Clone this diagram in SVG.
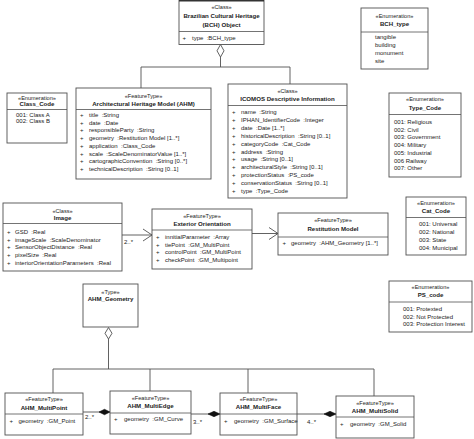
<svg xmlns="http://www.w3.org/2000/svg" width="474" height="439" viewBox="0 0 474 439">
<style>
text{font-family:"Liberation Sans",Arial,sans-serif;fill:#222;white-space:pre}
.box{fill:#fff;stroke:#505050;stroke-width:0.9}
.div{stroke:#505050;stroke-width:0.8}
.st{font-size:5.6px;text-anchor:middle}
.nm{font-size:6.1px;font-weight:bold;text-anchor:middle}
.at{font-size:6px}
.ln{fill:none;stroke:#505050;stroke-width:0.9}
.hd{fill:#fff;stroke:#505050;stroke-width:0.9}
.fd{fill:#111;stroke:#111;stroke-width:0.6}
</style>
<rect width="474" height="439" fill="#fff"/>
<g id="connectors">
<path class="ln" d="M220.5,57 V67 M141,67 H290 M141,67 V88 M290,67 V84"/>
<path class="hd" d="M220.5,44.5 L224,50.8 L220.5,57 L217,50.8 Z"/>
<path class="ln" d="M122,235 H152 M143,229 L152,235 L143,241"/>
<text class="at" x="124" y="244">2..*</text>
<path class="ln" d="M252,233.5 H278 M269,227.5 L278,233.5 L269,239.5"/>
<path class="ln" d="M108.5,339 V369 M53,369 H374 M53,369 V393 M150,369 V391 M248,369 V393 M374,369 V396"/>
<path class="hd" d="M108.5,327.5 L112,333.3 L108.5,339 L105,333.3 Z"/>
<path class="ln" d="M83,412 H110"/>
<path class="fd" d="M110,412 L104.5,409.3 L99,412 L104.5,414.7 Z"/>
<text class="at" x="85" y="419">2..*</text>
<path class="ln" d="M191,414 H220"/>
<path class="fd" d="M220,414 L214,411.3 L208,414 L214,416.7 Z"/>
<text class="at" x="193" y="424">3..*</text>
<path class="ln" d="M297,414 H336"/>
<path class="fd" d="M336,414 L330,411.3 L324,414 L330,416.7 Z"/>
<text class="at" x="307" y="424">4..*</text>
</g>
<g id="bch-object">
<rect class="box" x="179" y="0.5" width="85" height="44"/>
<line x1="179" y1="0.8" x2="264" y2="0.8" stroke="#333" stroke-width="1.6"/>
<text class="st" x="221.5" y="9">«Class»</text>
<text class="nm" x="221.5" y="18">Brazilian Cultural Heritage</text>
<text class="nm" x="221.5" y="27">(BCH) Object</text>
<line class="div" x1="179" y1="31.5" x2="264" y2="31.5"/>
<text class="at" x="182.5" y="40">+</text>
<text class="at" x="192" y="40">type  :BCH_type</text>
</g>
<g id="bch-type">
<rect class="box" x="361" y="8" width="67" height="61"/>
<text class="st" x="394.5" y="18">«Enumeration»</text>
<text class="nm" x="394.5" y="26">BCH_type</text>
<line class="div" x1="361" y1="32" x2="428" y2="32"/>
<text class="at" x="375" y="39">tangible</text>
<text class="at" x="375" y="47">building</text>
<text class="at" x="375" y="55">monument</text>
<text class="at" x="375" y="63">site</text>
</g>
<g id="class-code">
<rect class="box" x="7" y="93" width="60" height="50"/>
<text class="st" x="37" y="99.5">«Enumeration»</text>
<text class="nm" x="37" y="106">Class_Code</text>
<line class="div" x1="7" y1="109.5" x2="67" y2="109.5"/>
<text class="at" x="16" y="116.5">001: Class A</text>
<text class="at" x="16" y="123">002: Class B</text>
</g>
<g id="ahm">
<rect class="box" x="76" y="88" width="135" height="91"/>
<text class="st" x="143.5" y="98">«FeatureType»</text>
<text class="nm" x="143.5" y="106">Architectural Heritage Model (AHM)</text>
<line class="div" x1="76" y1="109.5" x2="211" y2="109.5"/>
<text class="at" x="80" y="117">+</text><text class="at" x="89" y="117">title  :String</text>
<text class="at" x="80" y="124.7">+</text><text class="at" x="89" y="124.7">date  :Date</text>
<text class="at" x="80" y="132.4">+</text><text class="at" x="89" y="132.4">responsibleParty  :String</text>
<text class="at" x="80" y="140.1">+</text><text class="at" x="89" y="140.1">geometry  :Restitution Model [1..*]</text>
<text class="at" x="80" y="147.8">+</text><text class="at" x="89" y="147.8">application  :Class_Code</text>
<text class="at" x="80" y="155.5">+</text><text class="at" x="89" y="155.5">scale  :ScaleDenominatorValue [1..*]</text>
<text class="at" x="80" y="163.2">+</text><text class="at" x="89" y="163.2">cartographicConvention  :String [0..*]</text>
<text class="at" x="80" y="170.9">+</text><text class="at" x="89" y="170.9">technicalDescription  :String [0..1]</text>
</g>
<g id="icomos">
<rect class="box" x="228" y="84" width="119" height="114"/>
<text class="st" x="287.5" y="92.5">«Class»</text>
<text class="nm" x="287.5" y="100.5">ICOMOS Descriptive Information</text>
<line class="div" x1="228" y1="105.5" x2="347" y2="105.5"/>
<text class="at" x="232" y="114">+</text><text class="at" x="241" y="114">name  :String</text>
<text class="at" x="232" y="121.9">+</text><text class="at" x="241" y="121.9">IPHAN_IdentifierCode  :Integer</text>
<text class="at" x="232" y="129.8">+</text><text class="at" x="241" y="129.8">date  :Date [1..*]</text>
<text class="at" x="232" y="137.7">+</text><text class="at" x="241" y="137.7">historicalDescription  :String [0..1]</text>
<text class="at" x="232" y="145.6">+</text><text class="at" x="241" y="145.6">categoryCode  :Cat_Code</text>
<text class="at" x="232" y="153.5">+</text><text class="at" x="241" y="153.5">address  :String</text>
<text class="at" x="232" y="161.4">+</text><text class="at" x="241" y="161.4">usage  :String [0..1]</text>
<text class="at" x="232" y="169.3">+</text><text class="at" x="241" y="169.3">architecturalStyle  :String [0..1]</text>
<text class="at" x="232" y="177.2">+</text><text class="at" x="241" y="177.2">protectionStatus  :PS_code</text>
<text class="at" x="232" y="185.1">+</text><text class="at" x="241" y="185.1">conservationStatus  :String [0..1]</text>
<text class="at" x="232" y="193">+</text><text class="at" x="241" y="193">type  :Type_Code</text>
</g>
<g id="type-code">
<rect class="box" x="389" y="93" width="72" height="84"/>
<text class="st" x="425" y="101">«Enumeration»</text>
<text class="nm" x="425" y="110">Type_Code</text>
<line class="div" x1="389" y1="114.5" x2="461" y2="114.5"/>
<text class="at" x="394" y="124">001: Religious</text>
<text class="at" x="394" y="131.7">002: Civil</text>
<text class="at" x="394" y="139.4">003: Government</text>
<text class="at" x="394" y="147.1">004: Military</text>
<text class="at" x="394" y="154.8">005: Industrial</text>
<text class="at" x="394" y="162.5">006 Railway</text>
<text class="at" x="394" y="170.2">007: Other</text>
</g>
<g id="image">
<rect class="box" x="3" y="203" width="119" height="68"/>
<text class="st" x="62.5" y="212.5">«Class»</text>
<text class="nm" x="62.5" y="219.5">Image</text>
<line class="div" x1="3" y1="223.5" x2="122" y2="223.5"/>
<text class="at" x="7" y="234">+</text><text class="at" x="15" y="234">GSD  :Real</text>
<text class="at" x="7" y="241.7">+</text><text class="at" x="15" y="241.7">imageScale  :ScaleDenominator</text>
<text class="at" x="7" y="249.4">+</text><text class="at" x="15" y="249.4">SensorObjectDistance  :Real</text>
<text class="at" x="7" y="257.1">+</text><text class="at" x="15" y="257.1">pixelSize  :Real</text>
<text class="at" x="7" y="264.8">+</text><text class="at" x="15" y="264.8">interiorOrientationParameters  :Real</text>
</g>
<g id="exterior-orientation">
<rect class="box" x="152" y="209" width="100" height="60"/>
<text class="st" x="202" y="218">«FeatureType»</text>
<text class="nm" x="202" y="226">Exterior Orientation</text>
<line class="div" x1="152" y1="230" x2="252" y2="230"/>
<text class="at" x="156" y="239">+</text><text class="at" x="165" y="239">innitialParameter  :Array</text>
<text class="at" x="156" y="246.7">+</text><text class="at" x="165" y="246.7">tiePoint  :GM_MultiPoint</text>
<text class="at" x="156" y="254.4">+</text><text class="at" x="165" y="254.4">controlPoint  :GM_MultiPoint</text>
<text class="at" x="156" y="262.1">+</text><text class="at" x="165" y="262.1">checkPoint  :GM_Multipoint</text>
</g>
<g id="restitution-model">
<rect class="box" x="278" y="213" width="110" height="42"/>
<text class="st" x="333" y="222">«FeatureType»</text>
<text class="nm" x="333" y="231">Restitution Model</text>
<line class="div" x1="278" y1="237" x2="388" y2="237"/>
<text class="at" x="282.5" y="245">+</text><text class="at" x="291" y="245">geometry  :AHM_Geometry [1..*]</text>
</g>
<g id="cat-code">
<rect class="box" x="406" y="197" width="60" height="58"/>
<text class="st" x="436" y="205">«Enumeration»</text>
<text class="nm" x="436" y="213">Cat_Code</text>
<line class="div" x1="406" y1="217.5" x2="466" y2="217.5"/>
<text class="at" x="419" y="226">001: Universal</text>
<text class="at" x="419" y="234">002: National</text>
<text class="at" x="419" y="242">003: State</text>
<text class="at" x="419" y="250">004: Municipal</text>
</g>
<g id="ps-code">
<rect class="box" x="389" y="281" width="83" height="51"/>
<text class="st" x="430.5" y="289">«Enumeration»</text>
<text class="nm" x="430.5" y="296.5">PS_code</text>
<line class="div" x1="389" y1="302" x2="472" y2="302"/>
<text class="at" x="403" y="311">001: Protexted</text>
<text class="at" x="403" y="318.5">002: Not Protected</text>
<text class="at" x="403" y="326">003: Protection Interest</text>
</g>
<g id="ahm-geometry">
<rect class="box" x="83" y="284" width="55" height="43"/>
<text class="st" x="110.5" y="294">«Type»</text>
<text class="nm" x="110.5" y="301">AHM_Geometry</text>
</g>
<g id="ahm-multipoint">
<rect class="box" x="5" y="393" width="78" height="42"/>
<text class="st" x="44" y="401">«FeatureType»</text>
<text class="nm" x="44" y="410">AHM_MultiPoint</text>
<line class="div" x1="5" y1="414" x2="83" y2="414"/>
<text class="at" x="9.5" y="423">+</text><text class="at" x="18.5" y="423">geometry  :GM_Point</text>
</g>
<g id="ahm-multiedge">
<rect class="box" x="110" y="391" width="81" height="43"/>
<text class="st" x="150.5" y="400">«FeatureType»</text>
<text class="nm" x="150.5" y="408">AHM_MultiEdge</text>
<line class="div" x1="110" y1="413" x2="191" y2="413"/>
<text class="at" x="114" y="421">+</text><text class="at" x="124" y="421">geometry  :GM_Curve</text>
</g>
<g id="ahm-multiface">
<rect class="box" x="220" y="393" width="77" height="42"/>
<text class="st" x="258.5" y="401">«FeatureType»</text>
<text class="nm" x="258.5" y="409">AHM_MultiFace</text>
<line class="div" x1="220" y1="414" x2="297" y2="414"/>
<text class="at" x="224" y="423">+</text><text class="at" x="234" y="423">geometry  :GM_Surface</text>
</g>
<g id="ahm-multisolid">
<rect class="box" x="336" y="396" width="78" height="42"/>
<text class="st" x="375" y="405">«FeatureType»</text>
<text class="nm" x="375" y="413">AHM_MultiSolid</text>
<line class="div" x1="336" y1="417" x2="414" y2="417"/>
<text class="at" x="340" y="426">+</text><text class="at" x="350" y="426">geometry  :GM_Solid</text>
</g>
</svg>
